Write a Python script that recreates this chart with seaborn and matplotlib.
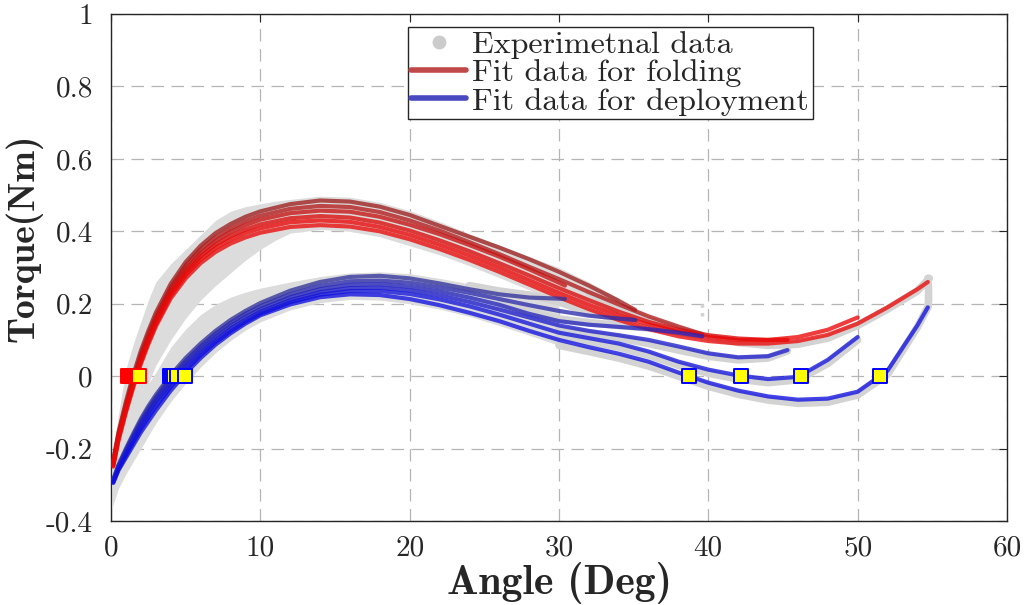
import matplotlib
matplotlib.use("Agg")
import matplotlib.pyplot as plt
import seaborn as sns
import pandas as pd
from matplotlib.lines import Line2D

# ---------------- data ----------------
angle_grid = [0.15, 0.5, 1, 1.5, 2, 2.5, 3, 4, 5, 6, 7, 8, 9, 10, 12, 14, 16, 18,
              20, 22, 24, 26, 28, 30, 32, 34, 36, 38, 40, 42, 44, 46, 48, 50, 52, 54]

# folding fits (red): torque values on angle_grid until the end angle, then the end point
fold_1_y = [-0.24, -0.165, -0.085, -0.012, 0.052, 0.107, 0.157, 0.237, 0.295, 0.34, 0.373, 0.398,
            0.417, 0.432, 0.45, 0.457, 0.454, 0.44, 0.418, 0.392, 0.362, 0.33, 0.295, 0.258]
fold_1_end = (30.4, 0.25)
fold_2_y = [-0.232, -0.155, -0.07, 0.005, 0.07, 0.125, 0.175, 0.255, 0.315, 0.36, 0.395, 0.42,
            0.44, 0.455, 0.475, 0.485, 0.482, 0.468, 0.445, 0.415, 0.385, 0.355, 0.323, 0.288,
            0.25, 0.208]
fold_2_end = (35.1, 0.183)
fold_3_y = [-0.236, -0.16, -0.078, -0.005, 0.06, 0.115, 0.165, 0.245, 0.305, 0.35, 0.383, 0.408,
            0.428, 0.443, 0.462, 0.47, 0.467, 0.453, 0.43, 0.402, 0.37, 0.337, 0.302, 0.268,
            0.232, 0.198, 0.165, 0.137]
fold_3_end = (39.6, 0.116)
fold_4_y = [-0.244, -0.17, -0.09, -0.018, 0.046, 0.1, 0.15, 0.23, 0.287, 0.331, 0.363, 0.387,
            0.405, 0.419, 0.436, 0.442, 0.438, 0.424, 0.402, 0.375, 0.345, 0.312, 0.278, 0.243,
            0.21, 0.178, 0.15, 0.128, 0.113, 0.104, 0.1]
fold_4_end = (45.3, 0.10)
fold_5_y = [-0.247, -0.174, -0.095, -0.024, 0.04, 0.094, 0.143, 0.222, 0.279, 0.322, 0.354, 0.377,
            0.395, 0.408, 0.425, 0.43, 0.426, 0.412, 0.39, 0.363, 0.333, 0.3, 0.265, 0.23,
            0.197, 0.167, 0.142, 0.122, 0.108, 0.1, 0.1, 0.108, 0.128]
fold_5_end = (50.0, 0.162)
fold_6_y = [-0.25, -0.178, -0.1, -0.03, 0.034, 0.088, 0.137, 0.215, 0.27, 0.312, 0.343, 0.366,
            0.383, 0.396, 0.412, 0.417, 0.413, 0.4, 0.378, 0.351, 0.321, 0.288, 0.253, 0.218,
            0.185, 0.155, 0.13, 0.11, 0.097, 0.09, 0.09, 0.097, 0.114, 0.145, 0.19, 0.24]
fold_6_end = (54.7, 0.26)

# deployment fits (blue)
dep_1_y = [-0.285, -0.245, -0.2, -0.158, -0.118, -0.083, -0.052, 0.003, 0.05, 0.09, 0.125, 0.155,
           0.18, 0.202, 0.236, 0.26, 0.274, 0.277, 0.27, 0.256, 0.24, 0.226, 0.217, 0.214]
dep_1_end = (30.4, 0.213)
dep_2_y = [-0.287, -0.248, -0.204, -0.163, -0.124, -0.09, -0.059, -0.005, 0.042, 0.082, 0.117,
           0.147, 0.172, 0.193, 0.226, 0.249, 0.262, 0.264, 0.258, 0.245, 0.23, 0.213, 0.196,
           0.18, 0.167, 0.159]
dep_2_end = (35.1, 0.155)
dep_3_y = [-0.289, -0.251, -0.208, -0.168, -0.13, -0.097, -0.066, -0.013, 0.034, 0.074, 0.109,
           0.139, 0.164, 0.185, 0.218, 0.24, 0.252, 0.254, 0.247, 0.234, 0.217, 0.197, 0.172,
           0.152, 0.142, 0.136, 0.13, 0.12]
dep_3_end = (39.6, 0.11)
dep_4_y = [-0.291, -0.254, -0.213, -0.174, -0.137, -0.104, -0.073, -0.021, 0.026, 0.066, 0.101,
           0.131, 0.156, 0.178, 0.21, 0.232, 0.243, 0.244, 0.237, 0.223, 0.205, 0.184, 0.162,
           0.14, 0.125, 0.113, 0.1, 0.082, 0.063, 0.052, 0.055]
dep_4_end = (45.3, 0.072)
dep_5_y = [-0.293, -0.257, -0.219, -0.182, -0.146, -0.114, -0.084, -0.03, 0.017, 0.058, 0.094,
           0.124, 0.15, 0.172, 0.204, 0.225, 0.235, 0.235, 0.227, 0.212, 0.193, 0.17, 0.145,
           0.12, 0.105, 0.09, 0.068, 0.04, 0.018, 0.002, -0.008, -0.002, 0.045]
dep_5_end = (50.0, 0.108)
dep_6_y = [-0.295, -0.26, -0.225, -0.19, -0.155, -0.125, -0.095, -0.04, 0.008, 0.05, 0.087,
           0.118, 0.145, 0.168, 0.198, 0.218, 0.226, 0.224, 0.213, 0.196, 0.175, 0.152, 0.125,
           0.1, 0.08, 0.062, 0.04, 0.01, -0.018, -0.04, -0.056, -0.065, -0.062, -0.043, 0.015, 0.14]
dep_6_end = (54.7, 0.19)

# zero-torque markers
fold_zero_red = [1.15, 1.35]
fold_zero_yellow = [1.9]
dep_zero_blue = [3.95]
dep_zero_yellow = [4.2, 4.4, 4.95, 38.7, 42.2, 46.2, 51.5]

# experimental data (grey cloud envelopes and traces)
exp_fold_x = [0.15, 0.6, 1, 1.5, 2, 2.5, 3, 4, 5, 6, 7, 8, 9, 10, 11, 12, 14, 16, 18, 20,
              22, 24, 26, 28, 30, 32, 34]
exp_fold_top = [-0.2, -0.08, 0.02, 0.09, 0.15, 0.21, 0.26, 0.31, 0.35, 0.39, 0.43, 0.455,
                0.468, 0.476, 0.483, 0.488, 0.497, 0.494, 0.48, 0.457, 0.427, 0.393, 0.362,
                0.33, 0.3, 0.26, 0.215]
exp_fold_low = [-0.33, -0.24, -0.18, -0.12, -0.07, -0.02, 0.03, 0.1, 0.16, 0.21, 0.25, 0.285,
                0.32, 0.35, 0.375, 0.395, 0.405, 0.4, 0.385, 0.36, 0.335, 0.305, 0.272, 0.238,
                0.2, 0.17, 0.145]
exp_dep_x = [0.1, 0.5, 1, 1.5, 2, 2.5, 3, 4, 5, 6, 7, 8, 9, 10, 12, 14, 16, 18, 20, 22, 24,
             26, 28, 30]
exp_dep_top = [-0.23, -0.17, -0.115, -0.075, -0.045, -0.02, 0.01, 0.08, 0.13, 0.17, 0.198,
               0.218, 0.232, 0.243, 0.26, 0.275, 0.285, 0.288, 0.283, 0.27, 0.255, 0.24, 0.23,
               0.222]
exp_dep_low = [-0.36, -0.31, -0.27, -0.235, -0.2, -0.165, -0.13, -0.07, -0.02, 0.025, 0.065,
               0.098, 0.127, 0.15, 0.183, 0.203, 0.212, 0.21, 0.2, 0.185, 0.165, 0.14, 0.113,
               0.085]
exp_tails = [
    ([32, 34, 36, 38, 40, 42, 44, 46, 48, 50, 52, 54, 54.8],
     [0.23, 0.19, 0.155, 0.128, 0.108, 0.093, 0.085, 0.088, 0.105, 0.14, 0.185, 0.235, 0.27]),
    ([30, 32, 34, 36, 38, 40, 42, 44, 46, 48, 50, 52, 53, 54, 54.7],
     [0.085, 0.068, 0.05, 0.028, 0.0, -0.028, -0.05, -0.066, -0.075, -0.072, -0.052, 0.005,
      0.07, 0.135, 0.19]),
    ([30, 32, 34, 36, 38, 40, 42, 44, 46, 48, 50],
     [0.11, 0.095, 0.08, 0.058, 0.03, 0.008, -0.008, -0.018, -0.01, 0.035, 0.1]),
    ([30, 32, 34, 36, 38, 40, 42, 44, 45.3],
     [0.13, 0.117, 0.105, 0.09, 0.072, 0.055, 0.045, 0.05, 0.07]),
    ([26, 28, 30, 32, 34, 36, 38, 39.6],
     [0.2, 0.178, 0.158, 0.148, 0.14, 0.133, 0.122, 0.112]),
    ([24, 26, 28, 30, 32, 34, 35.1],
     [0.25, 0.235, 0.224, 0.205, 0.175, 0.16, 0.155]),
    ([54.7, 54.75, 54.75, 54.7], [0.19, 0.21, 0.24, 0.27]),
]
exp_turn_x = [39.6, 39.6]
exp_turn_y = [0.165, 0.205]

x_ticks = [0, 10, 20, 30, 40, 50, 60]
x_tick_labels = ["0", "10", "20", "30", "40", "50", "60"]
y_ticks = [-0.4, -0.2, 0, 0.2, 0.4, 0.6, 0.8, 1.0]
y_tick_labels = ["-0.4", "-0.2", "0", "0.2", "0.4", "0.6", "0.8", "1"]

# ---------------- styling ----------------
sns.set_theme(style="white")
plt.rcParams["font.family"] = ["cmr10", "DejaVu Serif"]
plt.rcParams["axes.unicode_minus"] = False
plt.rcParams["axes.formatter.use_mathtext"] = True

fig = plt.figure(figsize=(10.25, 6.05), dpi=100)
ax = fig.add_axes([0.1083, 0.1388, 0.8741, 0.8381])

GREY = "#d3d3d3"
# experimental data cloud
ax.fill_between(exp_fold_x, exp_fold_low, exp_fold_top, color="#dcdcdc", lw=0, zorder=1)
ax.fill_between(exp_dep_x, exp_dep_low, exp_dep_top, color="#dcdcdc", lw=0, zorder=1)
for tx, ty in exp_tails:
    sns.lineplot(x=tx, y=ty, ax=ax, color=GREY, lw=5.5, sort=False, estimator=None,
                 legend=False, zorder=1.5, solid_capstyle="round")
sns.lineplot(x=exp_turn_x, y=exp_turn_y, ax=ax, color=GREY, lw=2.5, sort=False,
             estimator=None, legend=False, zorder=1.5, linestyle=(0, (1, 1.5)))

def curve(yvals, end):
    xs = angle_grid[:len(yvals)] + [end[0]]
    ys = list(yvals) + [end[1]]
    return pd.DataFrame({"angle": xs, "torque": ys})

fold_curves = [(fold_2_y, fold_2_end, (0.62, 0.12, 0.12)),
               (fold_3_y, fold_3_end, (0.70, 0.10, 0.10)),
               (fold_1_y, fold_1_end, (0.78, 0.07, 0.07)),
               (fold_4_y, fold_4_end, (0.86, 0.04, 0.04)),
               (fold_5_y, fold_5_end, (0.92, 0.02, 0.02)),
               (fold_6_y, fold_6_end, (0.92, 0.04, 0.04))]
dep_curves = [(dep_1_y, dep_1_end, (0.20, 0.20, 0.62)),
              (dep_2_y, dep_2_end, (0.17, 0.17, 0.68)),
              (dep_3_y, dep_3_end, (0.14, 0.14, 0.74)),
              (dep_4_y, dep_4_end, (0.11, 0.11, 0.80)),
              (dep_5_y, dep_5_end, (0.08, 0.08, 0.86)),
              (dep_6_y, dep_6_end, (0.06, 0.06, 0.88))]

for yv, end, col in fold_curves + dep_curves:
    df = curve(yv, end)
    sns.lineplot(data=df, x="angle", y="torque", ax=ax, color=col, lw=3.0, alpha=0.78,
                 sort=False, estimator=None, legend=False, zorder=3)

# zero markers
sns.scatterplot(x=fold_zero_red, y=[0] * len(fold_zero_red), ax=ax, marker="s", s=105,
                color="#ff0000", edgecolor="#ff0000", linewidth=1.4, zorder=5, legend=False)
sns.scatterplot(x=fold_zero_yellow, y=[0] * len(fold_zero_yellow), ax=ax, marker="s", s=105,
                color="#ffff00", edgecolor="#ff0000", linewidth=1.4, zorder=5, legend=False)
sns.scatterplot(x=dep_zero_blue, y=[0] * len(dep_zero_blue), ax=ax, marker="s", s=105,
                color="#0000ff", edgecolor="#0000ff", linewidth=1.4, zorder=5, legend=False)
sns.scatterplot(x=dep_zero_yellow, y=[0] * len(dep_zero_yellow), ax=ax, marker="s", s=105,
                color="#ffff00", edgecolor="#0000ff", linewidth=1.4, zorder=5, legend=False)

# axes
ax.set_xlim(0, 60)
ax.set_ylim(-0.4, 1.0)
ax.set_xticks(x_ticks)
ax.set_xticklabels(x_tick_labels)
ax.set_yticks(y_ticks)
ax.set_yticklabels(y_tick_labels)
ax.grid(True, linestyle=(0, (10, 6)), color="#b5b5b5", lw=0.9)
ax.set_axisbelow(True)
for sp in ax.spines.values():
    sp.set_visible(True)
    sp.set_color("#262626")
    sp.set_linewidth(1.0)
ax.tick_params(direction="in", length=6, width=0.8, top=True, right=True,
               labelsize=21, colors="#262626")
ax.tick_params(axis="y", pad=13)
ax.tick_params(axis="x", pad=10)

ax.set_xlabel("Angle (Deg)", fontfamily=["cmb10", "DejaVu Serif"], fontsize=30, color="#262626")
ax.set_ylabel("Torque(Nm)", fontfamily=["cmb10", "DejaVu Serif"], fontsize=27, color="#262626")
ax.xaxis.set_label_coords(0.5, -0.08)
ax.yaxis.set_label_coords(-0.076, 0.558)

handles = [Line2D([], [], marker="o", ls="none", color="#cccccc", markersize=9),
           Line2D([], [], color="#c04848", lw=4),
           Line2D([], [], color="#4848c0", lw=4)]
labels = ["Experimetnal data", "Fit data for folding", "Fit data for deployment"]
leg = ax.legend(handles, labels, loc="upper left", bbox_to_anchor=(0.331, 0.975),
                fontsize=23, frameon=True, fancybox=False, framealpha=1,
                edgecolor="#262626", borderpad=0.12, labelspacing=0.0,
                handlelength=1.7, handletextpad=0.2, borderaxespad=0)
leg.get_frame().set_linewidth(1.0)
leg.set_zorder(10)

fig.savefig("out.png", dpi=100)
